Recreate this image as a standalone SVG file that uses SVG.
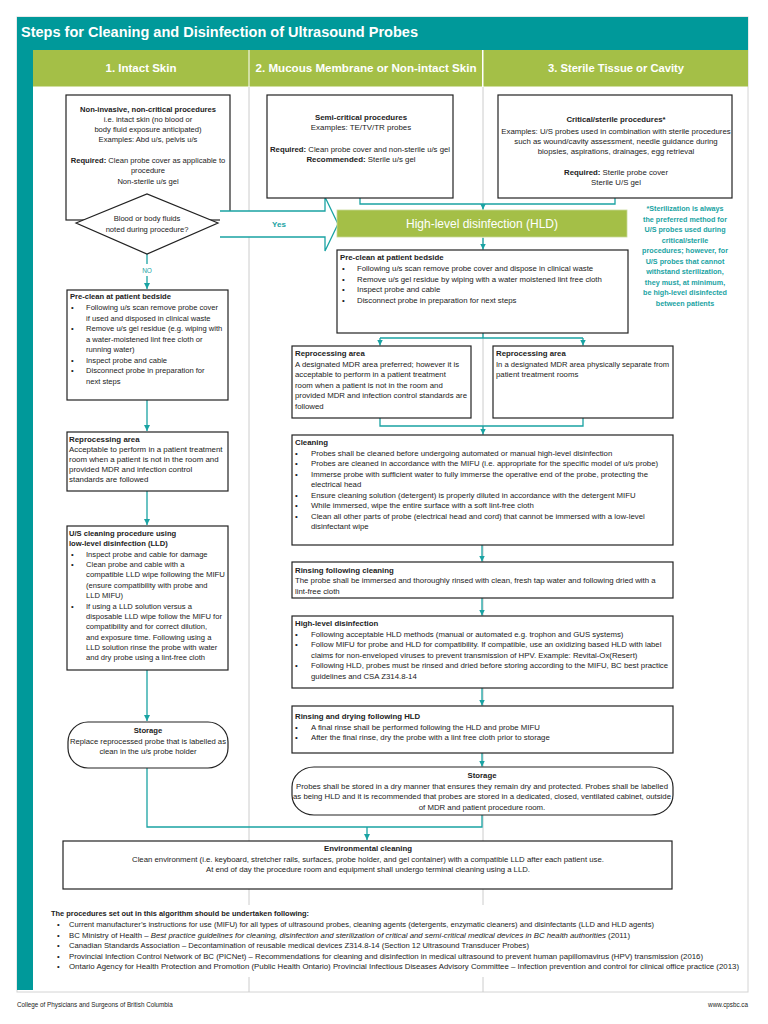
<svg xmlns="http://www.w3.org/2000/svg" width="768" height="1024" viewBox="0 0 768 1024">
<style>
text{font-family:"Liberation Sans",Arial,sans-serif;font-size:7.8px;fill:#222}
.b{font-weight:bold}
.c{text-anchor:middle}
.l{font-size:7.6px}
.m{font-size:7.9px}
.s{font-size:7.7px}
.f{font-size:7.6px}
.box{fill:#fff;stroke:#222;stroke-width:1.2}
.con{fill:none;stroke:#1aa3a3;stroke-width:1.3}
.note{fill:#1aa3a3;font-weight:bold;font-size:7.2px;text-anchor:middle}
.hdr{fill:#fff;font-weight:bold;font-size:11.5px;text-anchor:middle}
.div{stroke:#cccccc;stroke-width:1}
</style>
<defs>
<marker id="ah" markerUnits="userSpaceOnUse" markerWidth="7" markerHeight="7" refX="6" refY="3" orient="auto">
<path d="M0,0 L6,3 L0,6 z" fill="#1aa3a3"/>
</marker>
</defs>
<rect x="0" y="0" width="768" height="1024" fill="#fff"/>
<!-- frame -->
<rect x="17" y="17" width="731" height="975" fill="none" stroke="#d4d4d4" stroke-width="1"/>
<rect x="17" y="17" width="731" height="33" fill="#00999a"/>
<rect x="17" y="50" width="16" height="940" fill="#00999a"/>
<text x="21" y="37" style="font-size:14px;font-weight:bold;fill:#fff" textLength="397" lengthAdjust="spacingAndGlyphs">Steps for Cleaning and Disinfection of Ultrasound Probes</text>
<g id="columns">
<rect x="33" y="50" width="215.5" height="36.5" fill="#a4bf47"/>
<rect x="249.5" y="50" width="232.5" height="36.5" fill="#a4bf47"/>
<rect x="483.5" y="50" width="264.5" height="36.5" fill="#a4bf47"/>
<text class="hdr" x="141" y="72" textLength="71" lengthAdjust="spacingAndGlyphs">1. Intact Skin</text>
<text class="hdr" x="366" y="72" textLength="221" lengthAdjust="spacingAndGlyphs">2. Mucous Membrane or Non-intact Skin</text>
<text class="hdr" x="616" y="72" textLength="136" lengthAdjust="spacingAndGlyphs">3. Sterile Tissue or Cavity</text>
<line class="div" x1="249" y1="87" x2="249" y2="992"/>
<line class="div" x1="483" y1="87" x2="483" y2="992"/>
</g>

<g id="connectors">
<path class="con" d="M147,254 V264"/>
<path class="con" d="M147,276 V289" marker-end="url(#ah)"/>
<path class="con" d="M147,400 V431" marker-end="url(#ah)"/>
<path class="con" d="M147,491 V525" marker-end="url(#ah)"/>
<path class="con" d="M147,670 V721" marker-end="url(#ah)"/>
<path class="con" d="M147,768 V827 H482 V815"/>
<path class="con" d="M367,827 V840" marker-end="url(#ah)"/>
<path class="con" d="M360,198 V204 H615 V198"/>
<path class="con" d="M483,204 V209.5" marker-end="url(#ah)"/>
<path class="con" d="M483,238 V249.5" marker-end="url(#ah)"/>
<path class="con" d="M483,333 V338"/>
<path class="con" d="M380,338 H583"/>
<path class="con" d="M380,338 V345.5" marker-end="url(#ah)"/>
<path class="con" d="M583,338 V345.5" marker-end="url(#ah)"/>
<path class="con" d="M380,418 V426 H583 V418"/>
<path class="con" d="M483,426 V434.5" marker-end="url(#ah)"/>
<path class="con" d="M482,545 V561.5" marker-end="url(#ah)"/>
<path class="con" d="M482,598 V615.5" marker-end="url(#ah)"/>
<path class="con" d="M482,688 V705.5" marker-end="url(#ah)"/>
<path class="con" d="M482,753 V766.5" marker-end="url(#ah)"/>
</g>

<g id="noninvasive">
<rect class="box" x="66" y="95" width="164" height="125"/>
<text class="c l b" x="148" y="112">Non-invasive, non-critical  procedures</text>
<text class="c l" x="148" y="122">i.e. intact skin (no blood or</text>
<text class="c l" x="148" y="132">body fluid exposure anticipated)</text>
<text class="c l" x="148" y="142">Examples: Abd u/s, pelvis u/s</text>
<text class="c l" x="148" y="163"><tspan class="b">Required:</tspan> Clean probe cover as applicable to</text>
<text class="c l" x="148" y="173">procedure</text>
<text class="c l" x="148" y="184">Non-sterile u/s gel</text>
</g>

<g id="decision">
<polygon class="box" points="76,223 147,194 218,223 147,254"/>
<text class="c l" x="147" y="221">Blood or body fluids</text>
<text class="c l" x="147" y="232">noted during procedure?</text>
<text x="147" y="273" style="font-size:6.5px;fill:#1aa3a3;text-anchor:middle">NO</text>
</g>

<g id="yes-arrow">
<path d="M220,211 H325 V197 L338,224 L325,251 V237 H220" fill="#fff" stroke="#1aa3a3" stroke-width="1.3"/>
<text x="279" y="227" style="font-size:8px;font-weight:bold;fill:#1aa3a3;text-anchor:middle">Yes</text>
</g>

<g id="semicritical">
<rect class="box" x="267" y="95" width="186" height="103"/>
<text class="c b m" x="361" y="120">Semi-critical procedures</text>
<text class="c m" x="361" y="130">Examples: TE/TV/TR probes</text>
<text class="c m" x="360" y="152" textLength="180" lengthAdjust="spacingAndGlyphs"><tspan class="b">Required:</tspan> Clean probe cover and non-sterile u/s gel</text>
<text class="c m" x="361" y="162"><tspan class="b">Recommended:</tspan> Sterile u/s gel</text>
</g>

<g id="critical">
<rect class="box" x="498" y="95" width="234" height="103"/>
<text class="c b" x="616" y="122">Critical/sterile procedures*</text>
<text class="c" x="616" y="134">Examples: U/S probes used in combination with sterile procedures</text>
<text class="c" x="616" y="144">such as wound/cavity assessment, needle guidance during</text>
<text class="c" x="616" y="154">biopsies, aspirations, drainages, egg retrieval</text>
<text class="c" x="616" y="175"><tspan class="b">Required:</tspan> Sterile probe cover</text>
<text class="c" x="616" y="185">Sterile U/S gel</text>
</g>

<g id="sterilization-note">
<text class="note" x="685" y="211">*Sterilization is always</text>
<text class="note" x="685" y="221.5">the preferred method for</text>
<text class="note" x="685" y="232">U/S probes used during</text>
<text class="note" x="685" y="242.5">critical/sterile</text>
<text class="note" x="685" y="253">procedures; however, for</text>
<text class="note" x="685" y="263.5">U/S probes that cannot</text>
<text class="note" x="685" y="274">withstand sterilization,</text>
<text class="note" x="685" y="284.5">they must,  at minimum,</text>
<text class="note" x="685" y="295">be high-level disinfected</text>
<text class="note" x="685" y="305.5">between patients</text>
</g>

<g id="hld-title">
<rect x="337" y="210" width="290" height="27" fill="#a4bf47" stroke="#c9d99a" stroke-width="0.8"/>
<text x="482" y="228" style="font-size:12px;fill:#fff;text-anchor:middle">High-level disinfection (HLD)</text>
</g>

<g id="hld-preclean">
<rect class="box" x="337" y="250" width="291" height="83"/>
<text class="b" x="340" y="260">Pre-clean at patient bedside</text>
<text x="342" y="271">•</text><text x="357" y="271">Following u/s scan remove probe cover and dispose in clinical waste</text>
<text x="342" y="281.5">•</text><text x="357" y="281.5">Remove u/s gel residue by wiping with a  water moistened  lint free cloth</text>
<text x="342" y="292">•</text><text x="357" y="292">Inspect probe and cable</text>
<text x="342" y="302.5">•</text><text x="357" y="302.5">Disconnect probe in preparation for next steps</text>
</g>

<g id="reproc-a">
<rect class="box" x="292" y="346" width="179" height="72"/>
<text class="b" x="295" y="356">Reprocessing area</text>
<text x="295" y="366.5">A designated MDR area preferred; however it is</text>
<text x="295" y="377">acceptable to perform in a patient treatment</text>
<text x="295" y="387.5">room when a patient is not in the room and</text>
<text x="295" y="398" textLength="172" lengthAdjust="spacingAndGlyphs">provided MDR and infection control standards are</text>
<text x="295" y="408.5">followed</text>
</g>

<g id="reproc-b">
<rect class="box" x="493" y="346" width="180" height="72"/>
<text class="b" x="496" y="356">Reprocessing area</text>
<text x="496" y="366.5" textLength="173" lengthAdjust="spacingAndGlyphs">In a designated MDR area physically separate from</text>
<text x="496" y="377">patient treatment rooms</text>
</g>

<g id="cleaning">
<rect class="box" x="292" y="435" width="381" height="110"/>
<text class="b" x="295" y="445">Cleaning</text>
<text x="295" y="455.5">•</text><text x="311" y="455.5">Probes shall be cleaned before undergoing automated or manual high-level disinfection</text>
<text x="295" y="466">•</text><text x="311" y="466">Probes are cleaned in accordance with the MIFU (i.e. appropriate for the specific model of u/s probe)</text>
<text x="295" y="476.5">•</text><text x="311" y="476.5">Immerse probe with sufficient water to fully immerse the operative end of the probe, protecting the</text>
<text x="311" y="487">electrical head</text>
<text x="295" y="497.5">•</text><text x="311" y="497.5">Ensure cleaning solution (detergent) is properly diluted in accordance with the detergent MIFU</text>
<text x="295" y="508">•</text><text x="311" y="508">While immersed, wipe the entire surface with a soft lint-free cloth</text>
<text x="295" y="518.5">•</text><text x="311" y="518.5">Clean all other  parts of probe (electrical head and cord) that cannot be immersed with a low-level</text>
<text x="311" y="529">disinfectant wipe</text>
</g>

<g id="rinsing">
<rect class="box" x="292" y="562" width="381" height="36"/>
<text class="b" x="295" y="572.5">Rinsing following cleaning</text>
<text x="295" y="583">The probe shall be immersed and thoroughly rinsed with clean, fresh tap water and following dried with a</text>
<text x="295" y="593.5">lint-free cloth</text>
</g>

<g id="hld">
<rect class="box" x="292" y="616" width="381" height="72"/>
<text class="b" x="295" y="626">High-level disinfection</text>
<text x="295" y="636.5">•</text><text x="311" y="636.5">Following acceptable HLD methods (manual or automated e.g. trophon and GUS systems)</text>
<text x="295" y="647">•</text><text x="311" y="647">Follow MIFU for probe and HLD for compatibility. If compatible, use an oxidizing based HLD with label</text>
<text x="311" y="657.5">claims for non-enveloped viruses to prevent transmission of HPV. Example: Revital-Ox(Resert)</text>
<text x="295" y="668">•</text><text x="311" y="668">Following HLD, probes must be rinsed and dried before storing according to the MIFU, BC best practice</text>
<text x="311" y="678.5">guidelines and CSA Z314.8-14</text>
</g>

<g id="rinse-dry">
<rect class="box" x="292" y="706" width="381" height="47"/>
<text class="b" x="295" y="719">Rinsing and drying following HLD</text>
<text x="295" y="729.5">•</text><text x="311" y="729.5">A final rinse shall be performed following the HLD and probe MIFU</text>
<text x="295" y="740">•</text><text x="311" y="740">After the final rinse, dry the probe with a lint free cloth prior to storage</text>
</g>

<g id="storage-hld">
<rect class="box" x="292" y="767" width="381" height="48" rx="22" ry="20"/>
<text class="c b" x="482" y="778">Storage</text>
<text class="c" x="482" y="788.5" textLength="372" lengthAdjust="spacingAndGlyphs">Probes shall be stored in a dry manner that ensures they remain dry and protected. Probes shall be labelled</text>
<text class="c" x="482" y="799" textLength="378" lengthAdjust="spacingAndGlyphs">as being HLD and it is recommended that probes are stored in a dedicated, closed, ventilated cabinet, outside</text>
<text class="c" x="482" y="809.5">of MDR and patient procedure room.</text>
</g>

<g id="preclean-left">
<rect class="box" x="67" y="290" width="161" height="110"/>
<text class="l b" x="70" y="299">Pre-clean at patient bedside</text>
<text class="l" x="71" y="310">•</text><text class="l" x="86" y="310">Following u/s scan remove probe cover</text>
<text class="l" x="86" y="320.5">if used and disposed in clinical waste</text>
<text class="l" x="71" y="331">•</text><text class="l" x="86" y="331">Remove u/s gel residue (e.g. wiping with</text>
<text class="l" x="86" y="341.5">a water-moistened lint free cloth or</text>
<text class="l" x="86" y="352">running water)</text>
<text class="l" x="71" y="362.5">•</text><text class="l" x="86" y="362.5">Inspect probe and cable</text>
<text class="l" x="71" y="373">•</text><text class="l" x="86" y="373">Disconnect probe in preparation for</text>
<text class="l" x="86" y="383.5">next steps</text>
</g>

<g id="reproc-left">
<rect class="box" x="67" y="432" width="161" height="59"/>
<text class="m b" x="69" y="441.5">Reprocessing area</text>
<text class="m" x="69" y="451.5">Acceptable to perform in a patient treatment</text>
<text class="m" x="69" y="461.5">room when a patient is not in the room and</text>
<text class="m" x="69" y="471.5">provided MDR and infection control</text>
<text class="m" x="69" y="481.5">standards are followed</text>
</g>

<g id="lld">
<rect class="box" x="67" y="526" width="161" height="144"/>
<text class="l b" x="69" y="536">U/S cleaning procedure using</text>
<text class="l b" x="69" y="546">low-level disinfection (LLD)</text>
<text class="l" x="71" y="556.5">•</text><text class="l" x="86" y="556.5">Inspect probe and cable for damage</text>
<text class="l" x="71" y="567">•</text><text class="l" x="86" y="567">Clean probe and cable with a</text>
<text class="l" x="86" y="577" textLength="139" lengthAdjust="spacingAndGlyphs">compatible LLD wipe following the MIFU</text>
<text class="l" x="86" y="587.5">(ensure compatibility with probe and</text>
<text class="l" x="86" y="598">LLD MIFU)</text>
<text class="l" x="71" y="608.5">•</text><text class="l" x="86" y="608.5">If using a LLD solution versus a</text>
<text class="l" x="86" y="619">disposable LLD wipe follow the MIFU for</text>
<text class="l" x="86" y="629">compatibility and for correct dilution,</text>
<text class="l" x="86" y="639.5">and exposure time. Following using a</text>
<text class="l" x="86" y="650">LLD solution rinse the probe with water</text>
<text class="l" x="86" y="660">and dry probe using a lint-free cloth</text>
</g>

<g id="storage-left">
<rect class="box" x="68" y="722" width="160" height="46" rx="20" ry="20"/>
<text class="c b s" x="148" y="733">Storage</text>
<text class="c s" x="148" y="744">Replace reprocessed probe that is labelled as</text>
<text class="c s" x="148" y="754">clean in the u/s probe holder</text>
</g>

<g id="environmental">
<rect class="box" x="63" y="841" width="609" height="48"/>
<text class="c b" x="368" y="851">Environmental cleaning</text>
<text class="c" x="368" y="861.5" textLength="472" lengthAdjust="spacingAndGlyphs">Clean environment (i.e. keyboard, stretcher rails, surfaces, probe holder, and gel container) with a compatible LLD after each patient use.</text>
<text class="c" x="368" y="872" textLength="324" lengthAdjust="spacingAndGlyphs">At end of day the procedure room and equipment shall undergo terminal cleaning using a LLD.</text>
</g>

<g id="references">
<rect x="40" y="905" width="706" height="72" fill="#fff"/>
<text class="b f" x="51" y="916" textLength="258" lengthAdjust="spacingAndGlyphs">The procedures set out in this algorithm should be undertaken following:</text>
<text class="f" x="57" y="927">•</text><text class="f" x="69" y="927" textLength="585" lengthAdjust="spacingAndGlyphs">Current manufacturer’s instructions for use (MIFU) for all types of ultrasound probes, cleaning agents (detergents, enzymatic cleaners) and disinfectants (LLD and HLD agents)</text>
<text class="f" x="57" y="937.5">•</text><text class="f" x="69" y="937.5" textLength="561" lengthAdjust="spacingAndGlyphs">BC Ministry of Health – <tspan font-style="italic">Best practice guidelines for cleaning, disinfection and sterilization of critical and semi-critical medical devices in BC health authorities</tspan> (2011)</text>
<text class="f" x="57" y="948">•</text><text class="f" x="69" y="948" textLength="460" lengthAdjust="spacingAndGlyphs">Canadian Standards Association – Decontamination of reusable medical devices Z314.8-14 (Section 12 Ultrasound Transducer Probes)</text>
<text class="f" x="57" y="958.5">•</text><text class="f" x="69" y="958.5" textLength="634" lengthAdjust="spacingAndGlyphs">Provincial Infection Control Network of BC (PICNet) – Recommendations for cleaning and disinfection in medical ultrasound to prevent human papillomavirus (HPV) transmission (2016)</text>
<text class="f" x="57" y="969">•</text><text class="f" x="69" y="969" textLength="670" lengthAdjust="spacingAndGlyphs">Ontario Agency for Health Protection and Promotion (Public Health Ontario) Provincial Infectious Diseases Advisory Committee – Infection prevention and control for clinical office practice (2013)</text>
</g>

<text x="17" y="1007" style="font-size:6.3px">College of Physicians and Surgeons of British Columbia</text>
<text x="748" y="1007" style="font-size:6.3px;text-anchor:end">www.cpsbc.ca</text>
</svg>
